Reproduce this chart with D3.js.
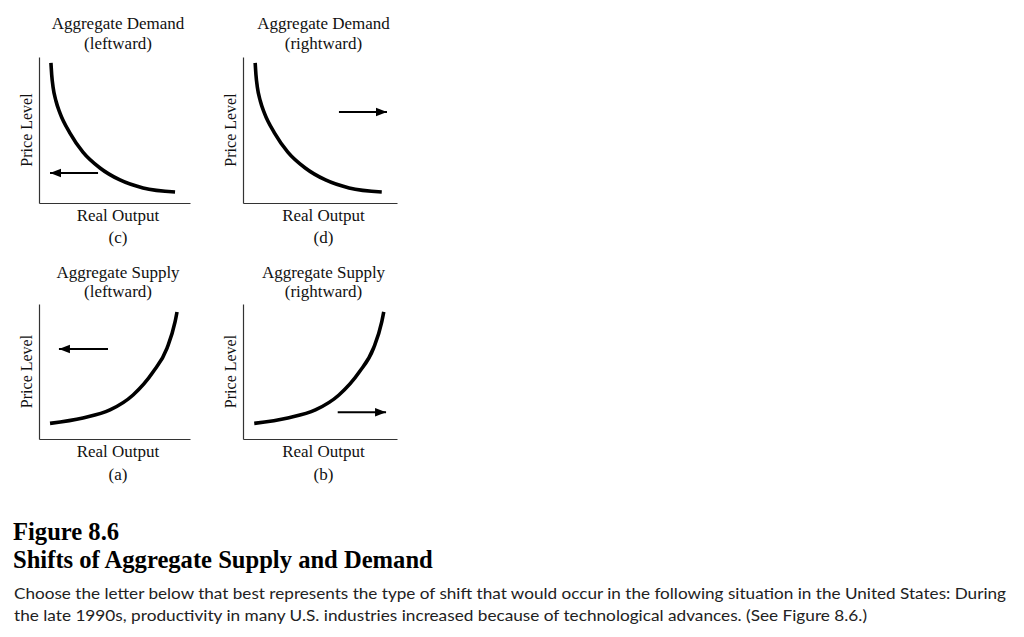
<!DOCTYPE html>
<html><head><meta charset="utf-8">
<script src="https://cdn.jsdelivr.net/npm/d3@7"></script>
<style>html,body{margin:0;padding:0;background:#fff}</style>
</head><body><svg id="chart" width="1024" height="637"></svg>
<script>
// ---- data ----
const panelIds = ["c", "d", "a", "b"];
const panelTitles = ["Aggregate Demand", "Aggregate Demand", "Aggregate Supply", "Aggregate Supply"];
const panelShifts = ["(leftward)", "(rightward)", "(leftward)", "(rightward)"];
const panelLetters = ["(c)", "(d)", "(a)", "(b)"];
const panelCurve = ["AD", "AD", "AS", "AS"];
const xAxisLabel = "Real Output";
const yAxisLabel = "Price Level";
// curve points in axis units (0-100)
const adCurve = [[7.9, 95.9], [8.4, 88.0], [9.3, 79.5], [11.2, 70.0], [13.9, 61.6], [20.5, 47.9], [29.1, 34.9], [40.4, 24.0], [53.6, 15.8], [68.9, 10.3], [90.1, 7.5]];
const asCurve = [[7.3, 11.6], [29.1, 15.6], [47.0, 21.5], [62.3, 32.6], [75.5, 49.6], [84.8, 67.4], [90.1, 86.7], [91.4, 94.1]];
// shift arrows (axis units)
const arrowStart = [39.1, 62.3, 45.7, 61.5];
const arrowEnd = [7.3, 93.5, 13.2, 92.9];
const arrowLevel = [20.5, 62.3, 66.7, 19.8];
const captionFigure = "Figure 8.6";
const captionTitle = "Shifts of Aggregate Supply and Demand";
const questionLines = [
  "Choose the letter below that best represents the type of shift that would occur in the following situation in the United States: During",
  "the late 1990s, productivity in many U.S. industries increased because of technological advances. (See Figure 8.6.)"
];

// ---- layout ----
const layout = [
  {x0: 39, x1: 190, top: 57, bottom: 203, t1: 29, t2: 49, lab: 221, let: 243},
  {x0: 243, x1: 397, top: 57, bottom: 203, t1: 29, t2: 49, lab: 221, let: 243},
  {x0: 39, x1: 190, top: 304, bottom: 439, t1: 278, t2: 297, lab: 457, let: 480},
  {x0: 243, x1: 397, top: 304, bottom: 439, t1: 278, t2: 297, lab: 457, let: 480}
];
const serif = "'Liberation Serif', 'Times New Roman', serif";

const svg = d3.select("#chart");
svg.append("defs").append("marker")
  .attr("id", "ah").attr("markerUnits", "userSpaceOnUse")
  .attr("viewBox", "0 -5 12 10").attr("refX", 11).attr("refY", 0)
  .attr("markerWidth", 12).attr("markerHeight", 10).attr("orient", "auto")
  .append("path").attr("d", "M0,-4.3L11,0L0,4.3Z").attr("fill", "#000");

function label(g, x, y, txt, size) {
  g.append("text")
    .attr("x", x).attr("y", y)
    .attr("text-anchor", "middle")
    .style("font-family", serif).style("font-size", size + "px")
    .attr("fill", "#111")
    .text(txt);
}

panelIds.forEach((id, i) => {
  const L = layout[i];
  const g = svg.append("g").attr("class", "panel-" + id);
  const x = d3.scaleLinear().domain([0, 100]).range([L.x0, L.x1]);
  const y = d3.scaleLinear().domain([0, 100]).range([L.bottom, L.top]);

  const xa = g.append("g").attr("transform", `translate(0,${L.bottom})`)
    .call(d3.axisBottom(x).tickValues([]).tickSizeOuter(0));
  const ya = g.append("g").attr("transform", `translate(${L.x0},0)`)
    .call(d3.axisLeft(y).tickValues([]).tickSizeOuter(0));
  [xa, ya].forEach(a => a.select(".domain").attr("stroke", "#333").attr("stroke-width", 1.2));

  const data = panelCurve[i] === "AD" ? adCurve : asCurve;
  const line = d3.line().x(d => x(d[0])).y(d => y(d[1])).curve(d3.curveMonotoneX);
  g.append("path").datum(data).attr("d", line)
    .attr("fill", "none").attr("stroke", "#000").attr("stroke-width", 3.6);

  g.append("line")
    .attr("x1", x(arrowStart[i])).attr("x2", x(arrowEnd[i]))
    .attr("y1", y(arrowLevel[i])).attr("y2", y(arrowLevel[i]))
    .attr("stroke", "#000").attr("stroke-width", 2)
    .attr("marker-end", "url(#ah)");

  const cx = (L.x0 + L.x1) / 2 + 3.5;
  label(g, cx, L.t1, panelTitles[i], 17);
  label(g, cx, L.t2, panelShifts[i], 17);
  label(g, cx, L.lab, xAxisLabel, 17);
  label(g, cx, L.let, panelLetters[i], 17);

  g.append("text")
    .attr("transform", `translate(${L.x0 - 7},${(L.top + L.bottom) / 2}) rotate(-90)`)
    .attr("text-anchor", "middle")
    .style("font-family", serif).style("font-size", "16px").attr("fill", "#111")
    .text(yAxisLabel);
});

// caption
const cap = svg.append("g");
[[captionFigure, 540], [captionTitle, 568]].forEach(([t, yy]) => {
  cap.append("text")
    .attr("x", 13).attr("y", yy)
    .style("font-family", serif).style("font-size", "24.6px").style("font-weight", "bold")
    .attr("fill", "#000").text(t);
});
const lineLens = [992, 853];
const lineY = [599, 621];
questionLines.forEach((t, i) => {
  cap.append("text")
    .attr("x", 14).attr("y", lineY[i])
    .attr("textLength", lineLens[i]).attr("lengthAdjust", "spacingAndGlyphs")
    .style("font-family", "Lato, 'Open Sans', sans-serif").style("font-size", "15px")
    .attr("fill", "#222").text(t);
});
</script></body></html>
